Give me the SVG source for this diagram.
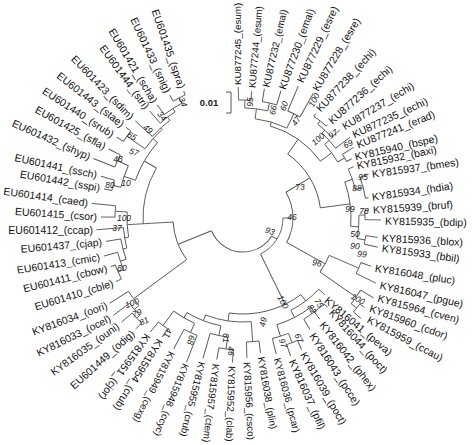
<svg xmlns="http://www.w3.org/2000/svg" width="474" height="445" viewBox="0 0 474 445">
<style>
.br line,.br circle{stroke:#555;stroke-width:0.9;fill:none}
.br circle{stroke-linecap:butt}
.lf{font-family:"Liberation Sans",Arial,sans-serif;font-size:10.5px;fill:#111}
.sm{font-size:9.8px}
.e{text-anchor:end}
.bs{font-family:"Liberation Sans",Arial,sans-serif;font-size:8.5px;font-style:italic;fill:#222;text-anchor:middle}
.sc{font-family:"Liberation Sans",Arial,sans-serif;font-size:9.5px;font-weight:bold;fill:#222;text-anchor:middle}
</style>
<rect width="474" height="445" fill="#fff"/>
<g id="connectors" class="br" transform="translate(243,218)">
<circle r="34" pathLength="360" stroke-dasharray="126 400" transform="rotate(32)"/>
<circle r="70" pathLength="360" stroke-dasharray="33.1 400" transform="rotate(143.6)"/>
<circle r="40" pathLength="360" stroke-dasharray="64 400" transform="rotate(0)"/>
<circle r="50" pathLength="360" stroke-dasharray="60.2 400" transform="rotate(-31)"/>
<circle r="78" pathLength="360" stroke-dasharray="47.5 400" transform="rotate(-55)"/>
<circle r="96" pathLength="360" stroke-dasharray="37.2 400" transform="rotate(-73.5)"/>
<circle r="100" pathLength="360" stroke-dasharray="19 400" transform="rotate(-83)"/>
<circle r="110" pathLength="360" stroke-dasharray="12.1 400" transform="rotate(-89.1)"/>
<circle r="118" pathLength="360" stroke-dasharray="6 400" transform="rotate(-92.1)"/>
<circle r="118" pathLength="360" stroke-dasharray="7.2 400" transform="rotate(-80.6)"/>
<circle r="116" pathLength="360" stroke-dasharray="6.7 400" transform="rotate(-67.3)"/>
<circle r="110" pathLength="360" stroke-dasharray="11.4 400" transform="rotate(-42)"/>
<circle r="116" pathLength="360" stroke-dasharray="10 400" transform="rotate(-47)"/>
<circle r="120" pathLength="360" stroke-dasharray="9.2 400" transform="rotate(-51.5)"/>
<circle r="124" pathLength="360" stroke-dasharray="7.4 400" transform="rotate(-55.2)"/>
<circle r="118" pathLength="360" stroke-dasharray="4 400" transform="rotate(-32.6)"/>
<circle r="108" pathLength="360" stroke-dasharray="23.9 400" transform="rotate(-19.5)"/>
<circle r="116" pathLength="360" stroke-dasharray="10.7 400" transform="rotate(-24.9)"/>
<circle r="124" pathLength="360" stroke-dasharray="10 400" transform="rotate(-19.2)"/>
<circle r="116" pathLength="360" stroke-dasharray="11.6 400" transform="rotate(-1.4)"/>
<circle r="122" pathLength="360" stroke-dasharray="4.3 400" transform="rotate(-3.5)"/>
<circle r="124" pathLength="360" stroke-dasharray="4 400" transform="rotate(8.2)"/>
<circle r="94" pathLength="360" stroke-dasharray="11.6 400" transform="rotate(23.4)"/>
<circle r="126" pathLength="360" stroke-dasharray="5.4 400" transform="rotate(20.7)"/>
<circle r="138" pathLength="360" stroke-dasharray="6.9 400" transform="rotate(31.5)"/>
<circle r="145" pathLength="360" stroke-dasharray="4 400" transform="rotate(36.4)"/>
<circle r="96" pathLength="360" stroke-dasharray="45.4 400" transform="rotate(52.9)"/>
<circle r="104" pathLength="360" stroke-dasharray="19.4 400" transform="rotate(43.2)"/>
<circle r="112" pathLength="360" stroke-dasharray="19.6 400" transform="rotate(52.8)"/>
<circle r="118" pathLength="360" stroke-dasharray="12.4 400" transform="rotate(46.6)"/>
<circle r="124" pathLength="360" stroke-dasharray="7.8 400" transform="rotate(68.5)"/>
<circle r="134" pathLength="360" stroke-dasharray="5 400" transform="rotate(66)"/>
<circle r="104" pathLength="360" stroke-dasharray="25.6 400" transform="rotate(85.5)"/>
<circle r="124" pathLength="360" stroke-dasharray="5.8 400" transform="rotate(82.6)"/>
<circle r="110" pathLength="360" stroke-dasharray="19.05 400" transform="rotate(101.6)"/>
<circle r="120" pathLength="360" stroke-dasharray="8.55 400" transform="rotate(97.35)"/>
<circle r="132" pathLength="360" stroke-dasharray="6.3 400" transform="rotate(94.2)"/>
<circle r="116" pathLength="360" stroke-dasharray="12 400" transform="rotate(114.65)"/>
<circle r="126" pathLength="360" stroke-dasharray="6.5 400" transform="rotate(111.4)"/>
<circle r="134" pathLength="360" stroke-dasharray="4.9 400" transform="rotate(124.2)"/>
<circle r="136" pathLength="360" stroke-dasharray="7.5 400" transform="rotate(139.9)"/>
<circle r="142" pathLength="360" stroke-dasharray="6.4 400" transform="rotate(136.7)"/>
<circle r="146" pathLength="360" stroke-dasharray="5.4 400" transform="rotate(134)"/>
<circle r="100" pathLength="360" stroke-dasharray="33.3 400" transform="rotate(176.7)"/>
<circle r="116" pathLength="360" stroke-dasharray="12.5 400" transform="rotate(170.5)"/>
<circle r="120" pathLength="360" stroke-dasharray="9.9 400" transform="rotate(165.5)"/>
<circle r="124" pathLength="360" stroke-dasharray="9.7 400" transform="rotate(160.6)"/>
<circle r="130" pathLength="360" stroke-dasharray="8.1 400" transform="rotate(156.6)"/>
<circle r="136" pathLength="360" stroke-dasharray="6.4 400" transform="rotate(153.4)"/>
<circle r="128" pathLength="360" stroke-dasharray="5.1 400" transform="rotate(180.4)"/>
<circle r="114" pathLength="360" stroke-dasharray="22.1 400" transform="rotate(199.3)"/>
<circle r="126" pathLength="360" stroke-dasharray="10.4 400" transform="rotate(194.1)"/>
<circle r="134" pathLength="360" stroke-dasharray="4.6 400" transform="rotate(191.8)"/>
<circle r="138" pathLength="360" stroke-dasharray="5.5 400" transform="rotate(201.7)"/>
<circle r="120" pathLength="360" stroke-dasharray="12.4 400" transform="rotate(215.2)"/>
<circle r="142" pathLength="360" stroke-dasharray="5.2 400" transform="rotate(212.6)"/>
<circle r="122" pathLength="360" stroke-dasharray="11.2 400" transform="rotate(222)"/>
<circle r="126" pathLength="360" stroke-dasharray="8.5 400" transform="rotate(228.9)"/>
<circle r="130" pathLength="360" stroke-dasharray="9.2 400" transform="rotate(232.8)"/>
<circle r="136" pathLength="360" stroke-dasharray="5.7 400" transform="rotate(239.2)"/>
<line x1="34" x2="70" transform="rotate(158)"/>
<line x1="34" x2="40" transform="rotate(32)"/>
<line x1="40" x2="50" transform="rotate(0)"/>
<line x1="50" x2="78" transform="rotate(-31)"/>
<line x1="78" x2="96" transform="rotate(-55)"/>
<line x1="96" x2="100" transform="rotate(-73.5)"/>
<line x1="100" x2="110" transform="rotate(-83)"/>
<line x1="110" x2="118" transform="rotate(-89.1)"/>
<line x1="118" x2="131" transform="rotate(-92.1)"/>
<line x1="118" x2="127" transform="rotate(-86.1)"/>
<line x1="110" x2="118" transform="rotate(-77)"/>
<line x1="118" x2="131" transform="rotate(-80.6)"/>
<line x1="118" x2="133" transform="rotate(-73.4)"/>
<line x1="100" x2="116" transform="rotate(-64)"/>
<line x1="116" x2="143" transform="rotate(-67.3)"/>
<line x1="116" x2="143" transform="rotate(-60.6)"/>
<line x1="96" x2="110" transform="rotate(-36.3)"/>
<line x1="110" x2="116" transform="rotate(-42)"/>
<line x1="116" x2="120" transform="rotate(-47)"/>
<line x1="120" x2="124" transform="rotate(-51.5)"/>
<line x1="124" x2="127" transform="rotate(-55.2)"/>
<line x1="124" x2="126" transform="rotate(-47.8)"/>
<line x1="120" x2="131" transform="rotate(-42.3)"/>
<line x1="116" x2="134" transform="rotate(-37)"/>
<line x1="110" x2="118" transform="rotate(-30.6)"/>
<line x1="118" x2="131" transform="rotate(-32.6)"/>
<line x1="118" x2="124" transform="rotate(-28.6)"/>
<line x1="78" x2="108" transform="rotate(-7.5)"/>
<line x1="108" x2="116" transform="rotate(-19.5)"/>
<line x1="116" x2="122" transform="rotate(-24.9)"/>
<line x1="116" x2="124" transform="rotate(-14.2)"/>
<line x1="124" x2="133" transform="rotate(-19.2)"/>
<line x1="124" x2="127" transform="rotate(-9.2)"/>
<line x1="108" x2="116" transform="rotate(4.4)"/>
<line x1="116" x2="122" transform="rotate(-1.4)"/>
<line x1="122" x2="126" transform="rotate(-3.5)"/>
<line x1="122" x2="138" transform="rotate(0.8)"/>
<line x1="116" x2="124" transform="rotate(10.2)"/>
<line x1="124" x2="136" transform="rotate(8.2)"/>
<line x1="124" x2="138" transform="rotate(12.2)"/>
<line x1="50" x2="94" transform="rotate(29.2)"/>
<line x1="94" x2="126" transform="rotate(23.4)"/>
<line x1="126" x2="137" transform="rotate(20.7)"/>
<line x1="126" x2="148" transform="rotate(26.1)"/>
<line x1="94" x2="138" transform="rotate(35)"/>
<line x1="138" x2="153" transform="rotate(31.5)"/>
<line x1="138" x2="145" transform="rotate(38.4)"/>
<line x1="145" x2="151" transform="rotate(36.4)"/>
<line x1="145" x2="155" transform="rotate(40.4)"/>
<line x1="40" x2="96" transform="rotate(64)"/>
<line x1="96" x2="104" transform="rotate(52.9)"/>
<line x1="104" x2="112" transform="rotate(43.2)"/>
<line x1="104" x2="112" transform="rotate(62.6)"/>
<line x1="112" x2="127" transform="rotate(52.8)"/>
<line x1="118" x2="123" transform="rotate(46.6)"/>
<line x1="118" x2="130" transform="rotate(59)"/>
<line x1="112" x2="124" transform="rotate(72.4)"/>
<line x1="124" x2="134" transform="rotate(68.5)"/>
<line x1="134" x2="144" transform="rotate(66)"/>
<line x1="134" x2="146" transform="rotate(71)"/>
<line x1="124" x2="140" transform="rotate(76.3)"/>
<line x1="96" x2="104" transform="rotate(98.3)"/>
<line x1="104" x2="124" transform="rotate(85.5)"/>
<line x1="124" x2="136" transform="rotate(82.6)"/>
<line x1="124" x2="140" transform="rotate(88.4)"/>
<line x1="104" x2="110" transform="rotate(111.1)"/>
<line x1="110" x2="120" transform="rotate(101.6)"/>
<line x1="120" x2="132" transform="rotate(97.35)"/>
<line x1="132" x2="145" transform="rotate(94.2)"/>
<line x1="132" x2="144" transform="rotate(100.5)"/>
<line x1="120" x2="146" transform="rotate(105.9)"/>
<line x1="110" x2="116" transform="rotate(120.65)"/>
<line x1="116" x2="126" transform="rotate(114.65)"/>
<line x1="126" x2="155" transform="rotate(111.4)"/>
<line x1="126" x2="148" transform="rotate(117.9)"/>
<line x1="116" x2="134" transform="rotate(126.65)"/>
<line x1="134" x2="144" transform="rotate(124.2)"/>
<line x1="134" x2="147" transform="rotate(129.1)"/>
<line x1="70" x2="136" transform="rotate(143.6)"/>
<line x1="136" x2="142" transform="rotate(139.9)"/>
<line x1="142" x2="146" transform="rotate(136.7)"/>
<line x1="146" x2="154" transform="rotate(134)"/>
<line x1="146" x2="160" transform="rotate(139.4)"/>
<line x1="142" x2="162" transform="rotate(143.1)"/>
<line x1="136" x2="158" transform="rotate(147.4)"/>
<line x1="70" x2="116" transform="rotate(176.7)"/>
<line x1="116" x2="120" transform="rotate(170.5)"/>
<line x1="120" x2="124" transform="rotate(165.5)"/>
<line x1="124" x2="130" transform="rotate(160.6)"/>
<line x1="130" x2="136" transform="rotate(156.6)"/>
<line x1="136" x2="142" transform="rotate(153.4)"/>
<line x1="136" x2="141" transform="rotate(159.8)"/>
<line x1="130" x2="144" transform="rotate(164.7)"/>
<line x1="124" x2="139" transform="rotate(170.3)"/>
<line x1="120" x2="147" transform="rotate(175.4)"/>
<line x1="116" x2="128" transform="rotate(183)"/>
<line x1="128" x2="142" transform="rotate(180.4)"/>
<line x1="128" x2="152" transform="rotate(185.5)"/>
<line x1="100" x2="114" transform="rotate(210)"/>
<line x1="114" x2="126" transform="rotate(199.3)"/>
<line x1="126" x2="134" transform="rotate(194.1)"/>
<line x1="134" x2="142" transform="rotate(191.8)"/>
<line x1="134" x2="148" transform="rotate(196.4)"/>
<line x1="126" x2="138" transform="rotate(204.5)"/>
<line x1="138" x2="161" transform="rotate(201.7)"/>
<line x1="138" x2="151" transform="rotate(207.2)"/>
<line x1="114" x2="120" transform="rotate(221.4)"/>
<line x1="120" x2="142" transform="rotate(215.2)"/>
<line x1="142" x2="150" transform="rotate(212.6)"/>
<line x1="142" x2="148" transform="rotate(217.8)"/>
<line x1="120" x2="122" transform="rotate(227.6)"/>
<line x1="122" x2="145" transform="rotate(222)"/>
<line x1="122" x2="126" transform="rotate(233.2)"/>
<line x1="126" x2="142" transform="rotate(228.9)"/>
<line x1="126" x2="130" transform="rotate(237.4)"/>
<line x1="130" x2="142" transform="rotate(232.8)"/>
<line x1="130" x2="136" transform="rotate(242)"/>
<line x1="136" x2="143" transform="rotate(239.2)"/>
<line x1="136" x2="140" transform="rotate(244.9)"/>
</g>
<g id="scale-bar">
<path d="M226,92 H231 V113 H226" fill="none" stroke="#555" stroke-width="1"/>
<text class="sc" x="209" y="103" dy="0.35em">0.01</text>
</g>
<g id="leaves">
<g id="n1"><text class="lf sm" x="238" y="85" dy="0.35em" transform="rotate(-90 238 85)">KU877245_(esum)</text></g>
<g id="n2"><text class="lf sm" x="252" y="88" dy="0.35em" transform="rotate(-85 252 88)">KU877244_(esum)</text></g>
<g id="n3"><text class="lf sm" x="266" y="87" dy="0.35em" transform="rotate(-77 266 87)">KU877232_(emal)</text></g>
<g id="n4"><text class="lf" x="282" y="89" dy="0.35em" transform="rotate(-70 282 89)">KU877230_(emal)</text></g>
<g id="n5"><text class="lf" x="300" y="82" dy="0.35em" transform="rotate(-65 300 82)">KU877229_(esre)</text></g>
<g id="n6"><text class="lf" x="315" y="90" dy="0.35em" transform="rotate(-59 315 90)">KU877228_(esre)</text></g>
<g id="n7"><text class="lf" x="318" y="110" dy="0.35em" transform="rotate(-47 318 110)">KU877238_(echi)</text></g>
<g id="n8"><text class="lf" x="330" y="122" dy="0.35em" transform="rotate(-42 330 122)">KU877236_(echi)</text></g>
<g id="n9"><text class="lf" x="343" y="127" dy="0.35em" transform="rotate(-31 343 127)">KU877237_(echi)</text></g>
<g id="n10"><text class="lf" x="353" y="135" dy="0.35em" transform="rotate(-25 353 135)">KU877235_(echi)</text></g>
<g id="n11"><text class="lf" x="357" y="145" dy="0.35em" transform="rotate(-22 357 145)">KU877241_(erad)</text></g>
<g id="n12"><text class="lf" x="355" y="157" dy="0.35em" transform="rotate(-13 355 157)">KY815940_(bspe)</text></g>
<g id="n13"><text class="lf" x="357" y="166" dy="0.35em" transform="rotate(-12 357 166)">KY815932_(baxi)</text></g>
<g id="n14"><text class="lf" x="372" y="174" dy="0.35em" transform="rotate(-8 372 174)">KY815937_(bmes)</text></g>
<g id="n15"><text class="lf" x="372" y="197" dy="0.35em" transform="rotate(-8 372 197)">KY815934_(hdia)</text></g>
<g id="n16"><text class="lf" x="373" y="210" dy="0.35em" transform="rotate(-4 373 210)">KY815939_(bruf)</text></g>
<g id="n17"><text class="lf" x="385" y="221" dy="0.35em" transform="rotate(1 385 221)">KY815935_(bdip)</text></g>
<g id="n18"><text class="lf" x="382" y="238" dy="0.35em" transform="rotate(3 382 238)">KY815936_(blox)</text></g>
<g id="n19"><text class="lf" x="382" y="248" dy="0.35em" transform="rotate(8 382 248)">KY815933_(bbil)</text></g>
<g id="n20"><text class="lf" x="375" y="268" dy="0.35em" transform="rotate(9 375 268)">KY816048_(pluc)</text></g>
<g id="n21"><text class="lf" x="380" y="285" dy="0.35em" transform="rotate(13 380 285)">KY816047_(pgue)</text></g>
<g id="n22"><text class="lf" x="378" y="298" dy="0.35em" transform="rotate(15 378 298)">KY815964_(cven)</text></g>
<g id="n23"><text class="lf" x="370" y="308" dy="0.35em" transform="rotate(20 370 308)">KY815960_(cdor)</text></g>
<g id="n24"><text class="lf" x="368" y="319" dy="0.35em" transform="rotate(28 368 319)">KY815959_(ccau)</text></g>
<g id="n25"><text class="lf" x="326" y="299" dy="0.35em" transform="rotate(40 326 299)">KY816041_(peva)</text></g>
<g id="n26"><text class="lf" x="331" y="311" dy="0.35em" transform="rotate(48 331 311)">KY816044_(poct)</text></g>
<g id="n27"><text class="lf" x="322" y="323" dy="0.35em" transform="rotate(52 322 323)">KY816042_(phex)</text></g>
<g id="n28"><text class="lf" x="312" y="334" dy="0.35em" transform="rotate(57 312 334)">KY816043_(pcce)</text></g>
<g id="n29"><text class="lf" x="303" y="353" dy="0.35em" transform="rotate(60 303 353)">KY816039_(poct)</text></g>
<g id="n30"><text class="lf" x="292" y="360" dy="0.35em" transform="rotate(66 292 360)">KY816037_(pfil)</text></g>
<g id="n31"><text class="lf sm" x="277" y="358" dy="0.35em" transform="rotate(75 277 358)">KY816036_(pcar)</text></g>
<g id="n32"><text class="lf sm" x="261" y="357" dy="0.35em" transform="rotate(80 261 357)">KY816038_(plin)</text></g>
<g id="n33"><text class="lf sm" x="247" y="362" dy="0.35em" transform="rotate(87 247 362)">KY815956_(csco)</text></g>
<g id="n34"><text class="lf sm" x="232" y="366" dy="0.35em" transform="rotate(92 232 366)">KY815952_(clab)</text></g>
<g id="n35"><text class="lf sm" x="216" y="364" dy="0.35em" transform="rotate(97 216 364)">KY815957_(ctem)</text></g>
<g id="n36"><text class="lf sm" x="202" y="362" dy="0.35em" transform="rotate(104 202 362)">KY815955_(crub)</text></g>
<g id="n37"><text class="lf sm" x="186" y="364" dy="0.35em" transform="rotate(112 186 364)">KY815948_(ccyc)</text></g>
<g id="n38"><text class="lf sm" x="172" y="352" dy="0.35em" transform="rotate(117 172 352)">KY815949_(cexg)</text></g>
<g id="n39"><text class="lf" x="160" y="340" dy="0.35em" transform="rotate(122 160 340)">KY815954_(crub)</text></g>
<g id="n40"><text class="lf" x="148" y="335" dy="0.35em" transform="rotate(126 148 335)">KY815951_(cjor)</text></g>
<g id="n41"><text class="lf e" x="133" y="332" dy="0.35em" transform="rotate(-42 133 332)">EU601449_(odig)</text></g>
<g id="n42"><text class="lf e" x="118" y="325" dy="0.35em" transform="rotate(-36 118 325)">KY816035_(ouni)</text></g>
<g id="n43"><text class="lf e" x="110" y="318" dy="0.35em" transform="rotate(-26 110 318)">KY816033_(ocel)</text></g>
<g id="n44"><text class="lf e" x="107" y="305" dy="0.35em" transform="rotate(-20 107 305)">KY816034_(oori)</text></g>
<g id="n45"><text class="lf e" x="113" y="283" dy="0.35em" transform="rotate(-17 113 283)">EU601410_(cble)</text></g>
<g id="n46"><text class="lf e" x="107" y="268" dy="0.35em" transform="rotate(-14 107 268)">EU601411_(cbow)</text></g>
<g id="n47"><text class="lf e" x="100" y="257" dy="0.35em" transform="rotate(-9 100 257)">EU601413_(cmic)</text></g>
<g id="n48"><text class="lf e" x="102" y="242" dy="0.35em" transform="rotate(-5 102 242)">EU601437_(cjap)</text></g>
<g id="n49"><text class="lf e" x="93" y="230" dy="0.35em">EU601412_(ccap)</text></g>
<g id="n50"><text class="lf e" x="97" y="217" dy="0.35em" transform="rotate(4 97 217)">EU601415_(csor)</text></g>
<g id="n51"><text class="lf e" x="88" y="203" dy="0.35em" transform="rotate(8 88 203)">EU601414_(caed)</text></g>
<g id="n52"><text class="lf e" x="100" y="188" dy="0.35em" transform="rotate(10 100 188)">EU601442_(sspi)</text></g>
<g id="n53"><text class="lf e" x="97" y="175" dy="0.35em" transform="rotate(12 97 175)">EU601441_(ssch)</text></g>
<g id="n54"><text class="lf e" x="90" y="157" dy="0.35em" transform="rotate(24 90 157)">EU601432_(shyp)</text></g>
<g id="n55"><text class="lf e" x="105" y="147" dy="0.35em" transform="rotate(29 105 147)">EU601425_(sfla)</text></g>
<g id="n56"><text class="lf e" x="113" y="135" dy="0.35em" transform="rotate(33 113 135)">EU601440_(srub)</text></g>
<g id="n57"><text class="lf e" x="123" y="125" dy="0.35em" transform="rotate(38 123 125)">EU601443_(stae)</text></g>
<g id="n58"><text class="lf e" x="132" y="118" dy="0.35em" transform="rotate(46 132 118)">EU601423_(sdim)</text></g>
<g id="n59"><text class="lf e" x="147" y="108" dy="0.35em" transform="rotate(54 147 108)">EU601444_(stri)</text></g>
<g id="n60"><text class="lf e" x="155" y="102" dy="0.35em" transform="rotate(59 155 102)">EU601421_(scha)</text></g>
<g id="n61"><text class="lf e" x="168" y="92" dy="0.35em" transform="rotate(65 168 92)">EU601433_(snig)</text></g>
<g id="n62"><text class="lf e" x="182" y="88" dy="0.35em" transform="rotate(71 182 88)">EU601435_(spra)</text></g>
</g>
<g id="bootstrap">
<text class="bs" x="250" y="102" dy="0.35em" transform="rotate(-90 250 102)">95</text>
<text class="bs" x="273" y="110" dy="0.35em" transform="rotate(-75 273 110)">66</text>
<text class="bs" x="284" y="106" dy="0.35em" transform="rotate(-70 284 106)">60</text>
<text class="bs" x="314" y="100" dy="0.35em" transform="rotate(-62 314 100)">100</text>
<text class="bs" x="296" y="121" dy="0.35em" transform="rotate(-55 296 121)">47</text>
<text class="bs" x="318" y="139" dy="0.35em" transform="rotate(-42 318 139)">100</text>
<text class="bs" x="333" y="134" dy="0.35em" transform="rotate(-35 333 134)">97</text>
<text class="bs" x="348" y="144" dy="0.35em" transform="rotate(-28 348 144)">69</text>
<text class="bs" x="300" y="187" dy="0.35em" transform="rotate(-5 300 187)">73</text>
<text class="bs" x="292" y="217" dy="0.35em">46</text>
<text class="bs" x="270" y="231" dy="0.35em" transform="rotate(20 270 231)">93</text>
<text class="bs" x="350" y="209" dy="0.35em">99</text>
<text class="bs" x="357" y="188" dy="0.35em" transform="rotate(-5 357 188)">88</text>
<text class="bs" x="363" y="177" dy="0.35em" transform="rotate(-5 363 177)">95</text>
<text class="bs" x="364" y="211" dy="0.35em">78</text>
<text class="bs" x="355" y="234" dy="0.35em">50</text>
<text class="bs" x="355" y="246" dy="0.35em" transform="rotate(5 355 246)">90</text>
<text class="bs" x="362" y="254" dy="0.35em" transform="rotate(5 362 254)">99</text>
<text class="bs" x="317" y="263" dy="0.35em" transform="rotate(10 317 263)">96</text>
<text class="bs" x="358" y="299" dy="0.35em" transform="rotate(30 358 299)">100</text>
<text class="bs" x="283" y="302" dy="0.35em" transform="rotate(60 283 302)">100</text>
<text class="bs" x="263" y="322" dy="0.35em" transform="rotate(-80 263 322)">49</text>
<text class="bs" x="319" y="303" dy="0.35em" transform="rotate(60 319 303)">75</text>
<text class="bs" x="312" y="309" dy="0.35em" transform="rotate(60 312 309)">82</text>
<text class="bs" x="299" y="338" dy="0.35em" transform="rotate(65 299 338)">67</text>
<text class="bs" x="283" y="343" dy="0.35em" transform="rotate(72 283 343)">97</text>
<text class="bs" x="226" y="338" dy="0.35em" transform="rotate(90 226 338)">81</text>
<text class="bs" x="231" y="351" dy="0.35em" transform="rotate(90 231 351)">46</text>
<text class="bs" x="191" y="340" dy="0.35em" transform="rotate(100 191 340)">68</text>
<text class="bs" x="168" y="333" dy="0.35em" transform="rotate(110 168 333)">41</text>
<text class="bs" x="132" y="303" dy="0.35em" transform="rotate(-20 132 303)">100</text>
<text class="bs" x="137" y="313" dy="0.35em" transform="rotate(-20 137 313)">79</text>
<text class="bs" x="144" y="321" dy="0.35em" transform="rotate(-25 144 321)">81</text>
<text class="bs" x="122" y="268" dy="0.35em">80</text>
<text class="bs" x="117" y="228" dy="0.35em">37</text>
<text class="bs" x="124" y="218" dy="0.35em">100</text>
<text class="bs" x="126" y="183" dy="0.35em">10</text>
<text class="bs" x="110" y="185" dy="0.35em">80</text>
<text class="bs" x="118" y="159" dy="0.35em">48</text>
<text class="bs" x="134" y="152" dy="0.35em" transform="rotate(20 134 152)">57</text>
<text class="bs" x="132" y="136" dy="0.35em" transform="rotate(30 132 136)">65</text>
<text class="bs" x="148" y="129" dy="0.35em" transform="rotate(40 148 129)">49</text>
<text class="bs" x="162" y="116" dy="0.35em" transform="rotate(50 162 116)">34</text>
<text class="bs" x="183" y="102" dy="0.35em" transform="rotate(70 183 102)">34</text>
</g>
</svg>
